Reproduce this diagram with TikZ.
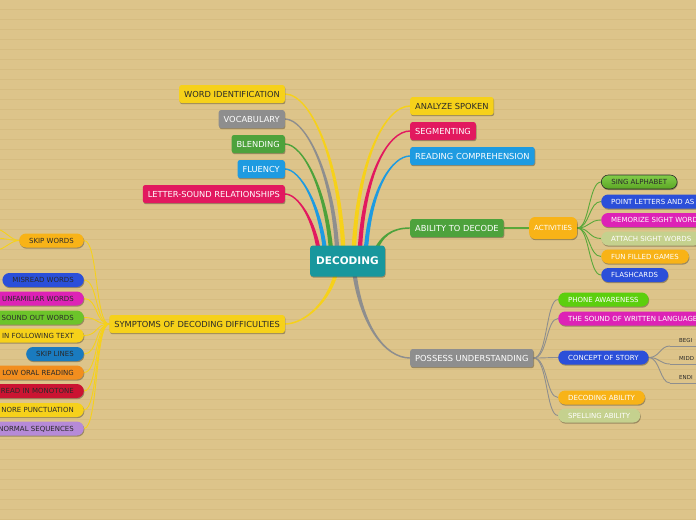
\documentclass[tikz,border=0pt]{standalone}
\usepackage{fontspec}
\setmainfont{DejaVu Sans}
\usetikzlibrary{calc,shadows,backgrounds}
\definecolor{bg}{HTML}{DDC48A}
\definecolor{stripe}{HTML}{D6BC80}
\definecolor{cyel}{HTML}{F6D11A}
\definecolor{cgray}{HTML}{8E8E8E}
\definecolor{cgreen}{HTML}{4DA23C}
\definecolor{cblue}{HTML}{1E9BE1}
\definecolor{ccrim}{HTML}{E2195F}
\definecolor{cteal}{HTML}{18979D}
\definecolor{corange}{HTML}{F8B317}
\definecolor{croyal}{HTML}{2B4FD9}
\definecolor{cmag}{HTML}{DD22B6}
\definecolor{clgreen}{HTML}{C5D18E}
\definecolor{csing}{HTML}{6CC42A}
\definecolor{cphone}{HTML}{5CCF0E}
\definecolor{cskipl}{HTML}{1A7BBF}
\definecolor{cslow}{HTML}{F28E1E}
\definecolor{cred}{HTML}{CB1432}
\definecolor{clav}{HTML}{B68AD8}
\definecolor{dark}{HTML}{2A2A2A}
\definecolor{subgreen}{HTML}{5AA83A}
\newcommand\tbr[9]{\fill[#1] ($#2+2.2*(#6,#7)$) .. controls ($#3+1.8*(#6,#7)$) and ($#4+1.0*(#8,#9)$) .. ($#5+0.7*(#8,#9)$) -- ($#5-0.7*(#8,#9)$) .. controls ($#4-1.0*(#8,#9)$) and ($#3-1.8*(#6,#7)$) .. ($#2-2.2*(#6,#7)$) -- cycle;}
\tikzset{
  shade/.style={drop shadow={shadow xshift=0.6pt, shadow yshift=-1.2pt, opacity=0.3, fill=black}},
  mainbox/.style={shade, rounded corners=2.5pt, minimum height=18pt, inner xsep=5pt, inner ysep=0pt,
    text height=6pt, text depth=0pt, font=\fontsize{8.3}{9}\selectfont},
  pill/.style={shade, rounded corners=7pt, minimum height=14pt, inner xsep=10pt, inner ysep=0pt,
    text height=5.1pt, text depth=0pt, font=\fontsize{7}{8}\selectfont},
  subline/.style={line width=0.9pt},
  uline/.style={anchor=south west, inner xsep=9pt, inner ysep=3.5pt, text width=30pt, align=left,
    text height=4pt, text depth=0pt, font=\fontsize{5.5}{6}\selectfont, text=dark},
}
\begin{document}
\begin{tikzpicture}[x=1pt,y=-1pt]
\useasboundingbox (0,0) rectangle (696,520);
% root
\node[shade, fill=cteal, rounded corners=3pt, minimum width=75pt, minimum height=31pt, inner sep=0pt,
  text=white, font=\fontsize{10.5}{12}\bfseries] (dec) at (347.5,261) {DECODING};
% left main
\node[mainbox, fill=cyel, text=dark, anchor=east] (wi) at (285,94) {WORD IDENTIFICATION};
\node[mainbox, fill=cgray, text=white, anchor=east] (vo) at (285,119) {VOCABULARY};
\node[mainbox, fill=cgreen, text=white, anchor=east] (bl) at (285,144) {BLENDING};
\node[mainbox, fill=cblue, text=white, anchor=east] (fl) at (285,169) {FLUENCY};
\node[mainbox, fill=ccrim, text=white, anchor=east] (ls) at (285,194) {LETTER-SOUND RELATIONSHIPS};
\node[mainbox, fill=cyel, text=dark, anchor=east] (sy) at (285,324) {SYMPTOMS OF DECODING DIFFICULTIES};
% right main
\node[mainbox, fill=cyel, text=dark, anchor=west] (an) at (410,106) {ANALYZE SPOKEN};
\node[mainbox, fill=ccrim, text=white, anchor=west] (se) at (410,131) {SEGMENTING};
\node[mainbox, fill=cblue, text=white, anchor=west] (rc) at (410,156) {READING COMPREHENSION};
\node[mainbox, fill=cgreen, text=white, anchor=west] (ab) at (410,228) {ABILITY TO DECODE};
\node[mainbox, fill=cgray, text=white, anchor=west] (pu) at (410,358) {POSSESS UNDERSTANDING};
\node[shade, fill=corange, text=white, rounded corners=6pt, minimum width=48pt, minimum height=22pt,
  inner sep=0pt, text height=5pt, text depth=0pt, font=\fontsize{7}{8}\selectfont, anchor=west] (ac) at (529,228) {ACTIVITIES};
% activities children
\node[pill, top color=csing!85!white, bottom color=csing!85!black, draw=dark, line width=0.6pt, text=dark, anchor=west] (sa) at (601,182) {SING ALPHABET};
\node[pill, fill=croyal, text=white, anchor=west] (pl) at (601,201.5) {POINT LETTERS AND AS};
\node[pill, fill=cmag, text=white, anchor=west] (mw) at (601,220) {MEMORIZE SIGHT WORDS};
\node[pill, fill=clgreen, text=white, anchor=west] (at) at (601,238.5) {ATTACH SIGHT WORDS};
\node[pill, fill=corange, text=white, anchor=west] (ff) at (601,256.5) {FUN FILLED GAMES};
\node[pill, fill=croyal, text=white, anchor=west] (fc) at (601,275) {FLASHCARDS};
% possess children
\node[pill, fill=cphone, text=white, anchor=west] (pa) at (558,299.5) {PHONE AWARENESS};
\node[pill, fill=cmag, text=white, anchor=west] (sw) at (558,318.5) {THE SOUND OF WRITTEN LANGUAGE};
\node[pill, fill=croyal, text=white, anchor=west] (cs) at (558,357.5) {CONCEPT OF STORY};
\node[pill, fill=corange, text=white, anchor=west] (da) at (558,397.5) {DECODING ABILITY};
\node[pill, fill=clgreen, text=white, anchor=west] (sp) at (558,415.5) {SPELLING ABILITY};
\node[uline] (bg1) at (670,346) {BEGI};
\node[uline] (bg2) at (670,364) {MIDD};
\node[uline] (bg3) at (670,383) {ENDI};
% symptoms children
\node[pill, fill=corange, text=dark, anchor=east] (sk) at (84,240.5) {SKIP WORDS};
\node[pill, fill=croyal, text=dark, anchor=east] (mr) at (84,280) {MISREAD WORDS};
\node[pill, fill=cmag, text=dark, anchor=east] (uf) at (84,298.5) {UNFAMILIAR WORDS};
\node[pill, fill=csing, text=dark, anchor=east] (so) at (84,317.5) {SOUND OUT WORDS};
\node[pill, fill=cyel, text=dark, anchor=east] (ft) at (84,335.5) {IN FOLLOWING TEXT};
\node[pill, fill=cskipl, text=dark, anchor=east] (sl) at (84,354) {SKIP LINES};
\node[pill, fill=cslow, text=dark, anchor=east] (lo) at (84,372.5) {LOW ORAL READING};
\node[pill, fill=cred, text=dark, anchor=east] (mo) at (84,391) {READ IN MONOTONE};
\node[pill, fill=cyel, text=dark, anchor=east] (ig) at (84,410) {NORE PUNCTUATION};
\node[pill, fill=clav, text=dark, anchor=east] (ns) at (84,428.5) {NORMAL SEQUENCES};
\coordinate (sk1) at (-4,229);
\coordinate (sk2) at (-4,238);
\coordinate (sk3) at (-4,250);
\begin{scope}[on background layer]
\fill[bg] (0,0) rectangle (696,520);
\foreach \k in {0,...,51} \draw[stripe, line width=0.7pt] (0,{9.5+10*\k}) -- (696,{9.5+10*\k});
% main branches
\tbr{cyel}{(dec.center)+(-4,-5)}{(341,165)}{(312,94)}{(wi.east)}{-1}{0}{0}{1}
\tbr{cgray}{(dec.center)+(-10,-5)}{(334,175)}{(306,119)}{(vo.east)}{-1}{0}{0}{1}
\tbr{cgreen}{(dec.center)+(-16,-5)}{(327,190)}{(303,144)}{(bl.east)}{-1}{0}{0}{1}
\tbr{cblue}{(dec.center)+(-22,-5)}{(321,205)}{(300,169)}{(fl.east)}{-1}{0}{0}{1}
\tbr{ccrim}{(dec.center)+(-28,-5)}{(315,220)}{(298,194)}{(ls.east)}{-1}{0}{0}{1}
\tbr{cyel}{(dec.center)+(6,-5)}{(357,160)}{(385,106)}{(an.west)}{-1}{0}{0}{-1}
\tbr{ccrim}{(dec.center)+(12,-5)}{(363,175)}{(388,131)}{(se.west)}{-1}{0}{0}{-1}
\tbr{cblue}{(dec.center)+(18,-5)}{(369,190)}{(392,156)}{(rc.west)}{-1}{0}{0}{-1}
\tbr{cgreen}{(dec.center)+(26,-5)}{(380,236)}{(392,228)}{(ab.west)}{-1}{0}{0}{-1}
\tbr{cyel}{(dec.center)+(-10,5)}{(332,300)}{(305,324)}{(sy.east)}{1}{0}{0}{1}
\tbr{cgray}{(dec.center)+(6,5)}{(360,325)}{(385,358)}{(pu.west)}{1}{0}{0}{-1}
% sub branches
\draw[subgreen, line width=1.5pt] (ab.east) -- (ac.west);
\foreach \n in {sa,pl,mw,at,ff,fc}
  \draw[subgreen, subline] (ac.east) .. controls +(12,0) and +(-12,0) .. (\n.west);
\foreach \n in {pa,sw,cs,da,sp}
  \draw[cgray, subline] (pu.east) .. controls +(14,0) and +(-12,0) .. (\n.west);
\foreach \n in {bg1,bg2,bg3}{
  \draw[cgray, subline] (cs.east) .. controls +(11,0) and +(-10,0) .. (\n.south west);
  \draw[cgray, subline] (\n.south west) -- (\n.south east);}
\foreach \n in {sk,mr,uf,so,ft,sl,lo,mo,ig,ns}
  \draw[cyel, subline] (sy.west) .. controls +(-14,0) and +(14,0) .. (\n.east);
\foreach \n in {sk1,sk2,sk3}
  \draw[cyel, subline] (sk.west) .. controls +(-8,0) and +(8,0) .. (\n);
\end{scope}
\end{tikzpicture}
\end{document}
